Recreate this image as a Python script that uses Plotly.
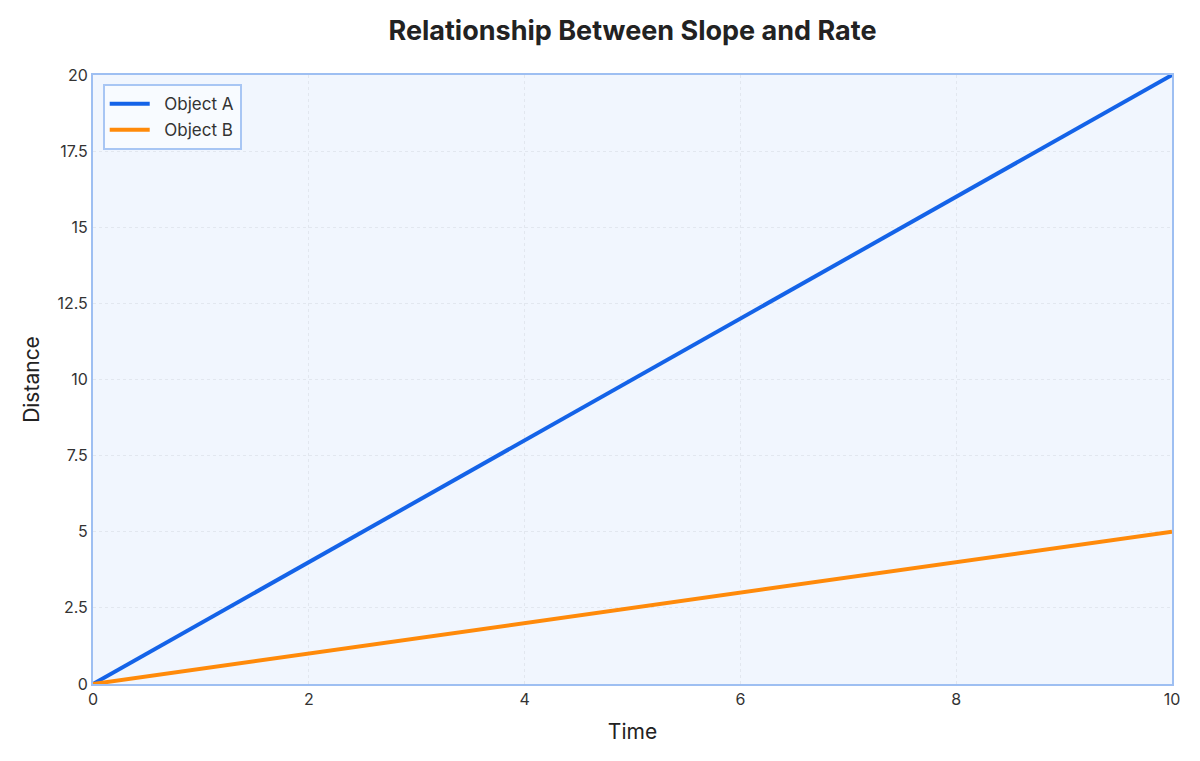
import plotly.graph_objects as go

time = [0, 1, 2, 3, 4, 5, 6, 7, 8, 9, 10]
object_a = [0, 2, 4, 6, 8, 10, 12, 14, 16, 18, 20]
object_b = [0, 0.5, 1, 1.5, 2, 2.5, 3, 3.5, 4, 4.5, 5]
series_names = ["Object A", "Object B"]

fig = go.Figure()
fig.add_trace(go.Scatter(x=time, y=object_a, mode="lines", name="\u00a0\u00a0" + series_names[0],
                         legendgroup="a", line=dict(color="#1463e8", width=4)))
fig.add_trace(go.Scatter(x=time, y=object_b, mode="lines", name="\u00a0\u00a0" + series_names[1],
                         legendgroup="b", line=dict(color="#ff8a0a", width=4)))

font_family = "Inter, Lato, sans-serif"
fig.update_layout(
    width=1200, height=761,
    margin=dict(l=93, r=28, t=75, b=77),
    paper_bgcolor="white",
    plot_bgcolor="#f1f6fe",
    font=dict(family=font_family, color="#222222", size=16),
    title=dict(text="<b>Relationship Between Slope and Rate</b>", x=0.5, xanchor="center",
               xref="paper",
               y=0.96, yanchor="middle", font=dict(size=27, color="#222222", family=font_family)),
    legend=dict(x=0.009, y=0.985, xanchor="left", yanchor="top",
                bgcolor="#f8fbff", bordercolor="#a8c6f4", borderwidth=2,
                itemwidth=40, tracegroupgap=1,
                font=dict(size=17, color="#333333")),
    showlegend=True,
)
fig.update_xaxes(title=dict(text="Time", font=dict(size=21), standoff=16),
                 range=[0, 10], dtick=2, showgrid=True, gridcolor="#e2e7ef", griddash="dot",
                 gridwidth=1, zeroline=False, showline=True, linecolor="#9ebff2", linewidth=2,
                 mirror=True, ticks="", tickfont=dict(size=16, color="#333333"))
fig.update_yaxes(title=dict(text="Distance", font=dict(size=21), standoff=12),
                 range=[0, 20], dtick=2.5, showgrid=True, gridcolor="#e2e7ef", griddash="dot",
                 gridwidth=1, zeroline=False, showline=True, linecolor="#9ebff2", linewidth=2,
                 mirror=True, ticks="", tickfont=dict(size=16, color="#333333"))

fig.write_html("out.html")
